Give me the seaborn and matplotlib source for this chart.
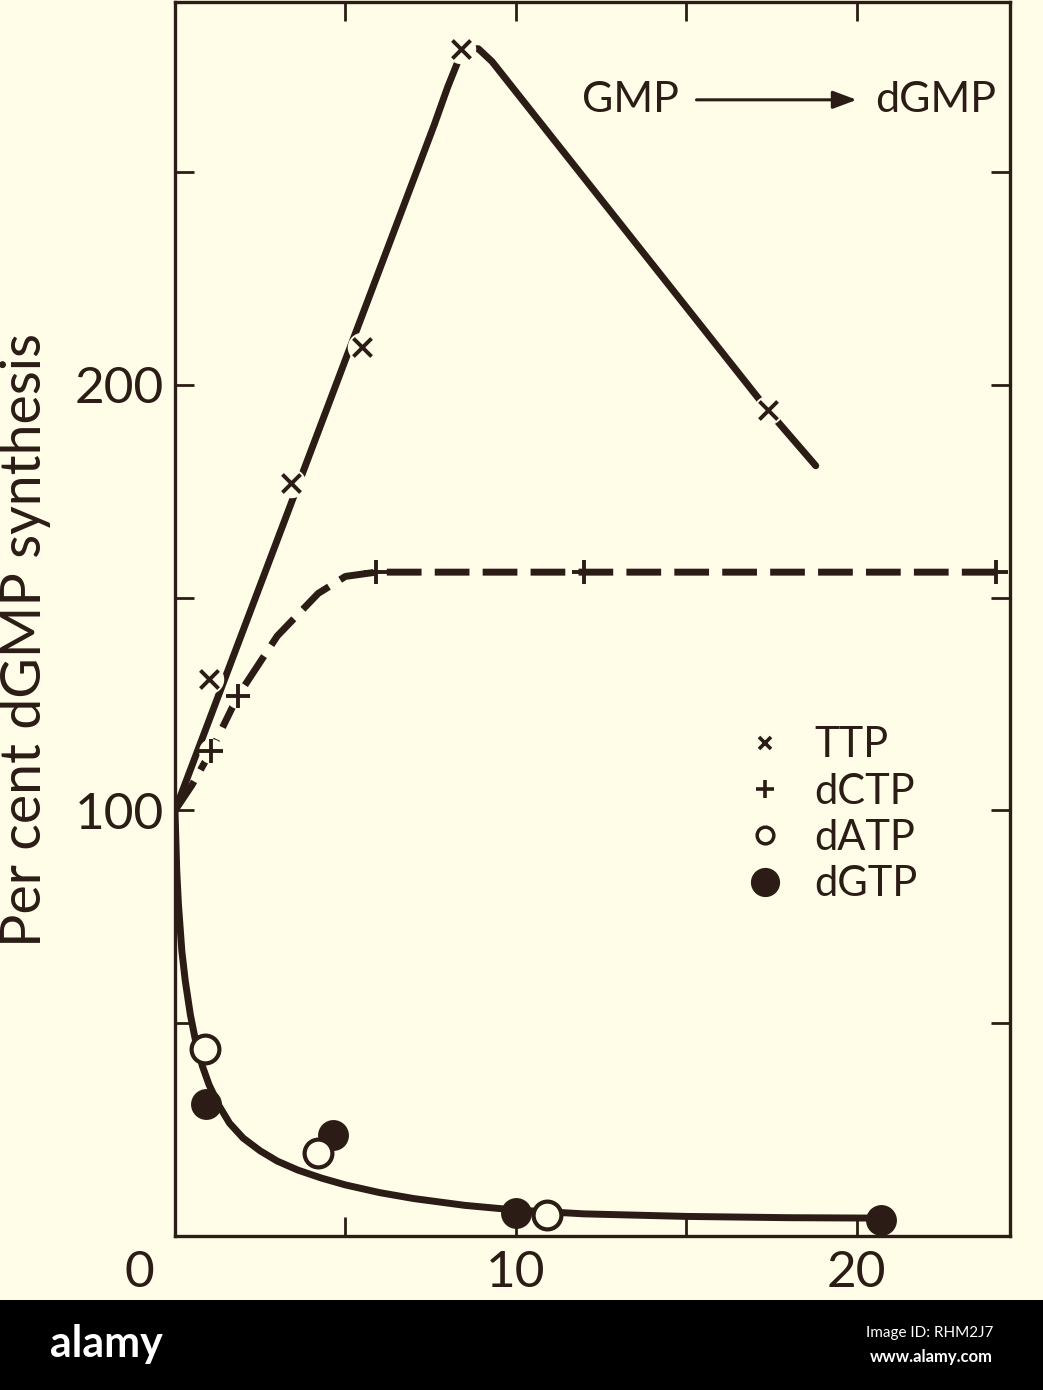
import numpy as np
import pandas as pd
import matplotlib.pyplot as plt
from matplotlib.lines import Line2D
from matplotlib.patches import Rectangle
import seaborn as sns

# measured points (x = inhibitor conc., y = per cent dGMP synthesis)
ttp_x = [1.0, 3.4, 5.5, 8.4, 17.4]
ttp_y = [131, 177, 209, 279, 194]
dctp_x = [1.06, 1.85, 5.9, 12.0, 24.1]
dctp_y = [114, 127, 156, 156, 156]
datp_x = [0.88, 4.2, 10.9]
datp_y = [44, 19.5, 4.9]
dgtp_x = [0.91, 4.65, 10.0, 20.7]
dgtp_y = [31, 23.7, 5.4, 3.8]

# hand-drawn curves
ttp_curve_x = [0, 7.6, 8.0, 8.3, 8.6, 8.9, 9.3, 17.4, 18.8]
ttp_curve_y = [100, 261, 270, 276, 279, 279, 276, 194, 181]
dctp_curve_x = [0, 0.5, 1.06, 1.85, 3.0, 4.2, 5.0, 5.9, 12.0, 24.1]
dctp_curve_y = [100, 106, 114, 127, 141, 151, 155, 156, 156, 156]
low_curve_x = [0, 0.05, 0.1, 0.2, 0.3, 0.45, 0.6, 0.8, 1.0, 1.3, 1.6, 2.0, 2.5, 3.0,
               3.6, 4.3, 5.0, 6.0, 7.0, 8.5, 10, 12, 15, 18, 20.7]
low_curve_y = [100, 86, 78, 67, 60, 52, 46, 40, 35.5, 30.5, 26.5, 23, 20, 17.6,
               15.5, 13.6, 12, 10.2, 8.8, 7.2, 6.1, 5.2, 4.6, 4.3, 4.2]

legend_labels = ["TTP", "dCTP", "dATP", "dGTP"]

paper = "#fffde8"
ink = "#2b1d16"

sns.set_theme(style="ticks")
plt.rcParams['font.family'] = ['Lato', 'DejaVu Sans']

fig = plt.figure(figsize=(10.43, 13.90), dpi=100)
fig.patch.set_facecolor(paper)
ax = fig.add_axes([0.1678, 0.1108, 0.8006, 0.8878])
ax.set_facecolor(paper)

# curves
sns.lineplot(x=ttp_curve_x, y=ttp_curve_y, sort=False, estimator=None,
             color=ink, lw=5, ax=ax, zorder=2)
sns.lineplot(x=dctp_curve_x, y=dctp_curve_y, sort=False, estimator=None,
             color=ink, lw=5, linestyle=(0, (5, 1.9)), ax=ax, zorder=2)
sns.lineplot(x=low_curve_x, y=low_curve_y, sort=False, estimator=None,
             color=ink, lw=5, ax=ax, zorder=2)

# paper-coloured halo so the lines break at the crosses
sns.scatterplot(x=ttp_x, y=ttp_y, s=450, color=paper, linewidth=0, ax=ax, zorder=3)
sns.scatterplot(x=dctp_x[:2], y=dctp_y[:2], s=320, color=paper, linewidth=0, ax=ax, zorder=3)

# markers
sns.scatterplot(x=ttp_x, y=ttp_y, marker="x", s=170, color=ink, linewidth=2.8, ax=ax, zorder=4)
sns.scatterplot(x=dctp_x, y=dctp_y, marker="+", s=280, color=ink, linewidth=2.8, ax=ax, zorder=4)
sns.scatterplot(x=dgtp_x, y=dgtp_y, marker="o", s=430, color=ink, edgecolor=ink,
                linewidth=1.5, ax=ax, zorder=5)
sns.scatterplot(x=datp_x, y=datp_y, marker="o", s=400, color=paper, edgecolor=ink,
                linewidth=3, ax=ax, zorder=5)

ax.set_xlim(0, 24.5)
ax.set_ylim(0, 290)

ax.set_xticks([5, 10, 15, 20])
ax.set_xticklabels(["", "10", "", "20"])
ax.set_yticks([50, 100, 150, 200, 250])
ax.set_yticklabels(["", "100", "", "200", ""])
ax.tick_params(direction="in", length=14, width=2, top=True, right=True,
               colors=ink, labelsize=37, pad=8)
ax.tick_params(axis="x", pad=10)
for sp in ax.spines.values():
    sp.set_visible(True)
    sp.set_color(ink)
    sp.set_linewidth(2.4)

ax.text(-1.05, -0.03, "0", transform=ax.get_xaxis_transform(),
        ha="center", va="center", fontsize=37, color=ink)

ax.set_ylabel("Per cent dGMP synthesis", fontsize=40, color=ink)
ax.yaxis.set_label_coords(-0.148, 0.483)

# reaction label
ax.text(13.35, 267, "GMP", fontsize=31, color=ink, ha="center", va="center")
ax.annotate("", xy=(20.0, 267), xytext=(15.3, 267),
            arrowprops=dict(arrowstyle="-|>,head_length=1.2,head_width=0.45",
                            color=ink, lw=2.2, shrinkA=0, shrinkB=0))
ax.text(20.55, 267, "dGMP", fontsize=31, color=ink, ha="left", va="center")

# key
handles = [
    Line2D([], [], ls="none", marker="x", ms=8, mew=2.6, color=ink),
    Line2D([], [], ls="none", marker="+", ms=13, mew=2.6, color=ink),
    Line2D([], [], ls="none", marker="o", ms=12, mew=2.5, mfc=paper, mec=ink),
    Line2D([], [], ls="none", marker="o", ms=20, mfc=ink, mec=ink),
]
leg = ax.legend(handles, legend_labels, loc="upper left", bbox_to_anchor=(0.681, 0.413),
                frameon=False, fontsize=30, handlelength=1.0, handletextpad=0.7,
                labelspacing=0.2, borderpad=0, borderaxespad=0)
for t in leg.get_texts():
    t.set_color(ink)

# bottom stock-photo strip
fig.patches.append(Rectangle((0, 0), 1, 90 / 1390, transform=fig.transFigure,
                             facecolor="black", edgecolor="none", zorder=10))
fig.text(0.048, 0.033, "alamy", color="white", fontsize=31, fontweight="bold",
         ha="left", va="center", zorder=11)
fig.text(0.952, 0.041, "Image ID: RHM2J7", color="white", fontsize=11,
         ha="right", va="center", zorder=11)
fig.text(0.952, 0.024, "www.alamy.com", color="white", fontsize=12, fontweight="bold",
         ha="right", va="center", zorder=11)

fig.savefig("out.png", dpi=100, facecolor=fig.get_facecolor())
